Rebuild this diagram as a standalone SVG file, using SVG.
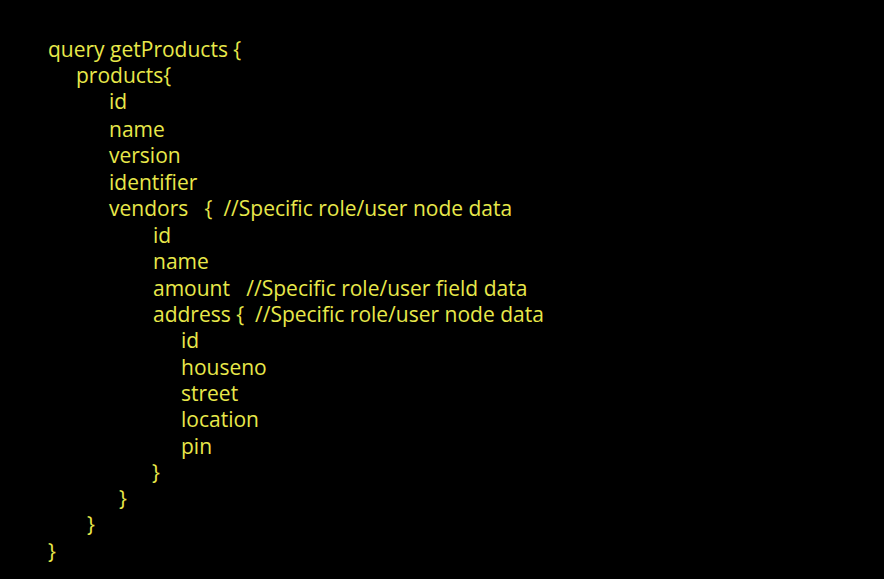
<svg xmlns="http://www.w3.org/2000/svg" width="884" height="579" viewBox="0 0 884 579">
<style>text{font-family:"Open Sans","Liberation Sans",sans-serif;font-size:21px;fill:#e8e84a;white-space:pre}</style>
<rect width="884" height="579" fill="#000"/>
<text x="48" y="57">query getProducts {</text>
<text x="76" y="83">products{</text>
<text x="109" y="109">id</text>
<text x="109" y="137">name</text>
<text x="109" y="163">version</text>
<text x="109" y="190">identifier</text>
<text x="109" y="216">vendors   {  //Specific role/user node data</text>
<text x="153" y="243">id</text>
<text x="153" y="269">name</text>
<text x="153" y="296">amount   //Specific role/user field data</text>
<text x="153" y="322">address {  //Specific role/user node data</text>
<text x="181" y="348">id</text>
<text x="181" y="375">houseno</text>
<text x="181" y="401">street</text>
<text x="181" y="427">location</text>
<text x="181" y="454">pin</text>
<text x="152" y="480">}</text>
<text x="119" y="506">}</text>
<text x="87" y="532">}</text>
<text x="48" y="559">}</text>
</svg>
